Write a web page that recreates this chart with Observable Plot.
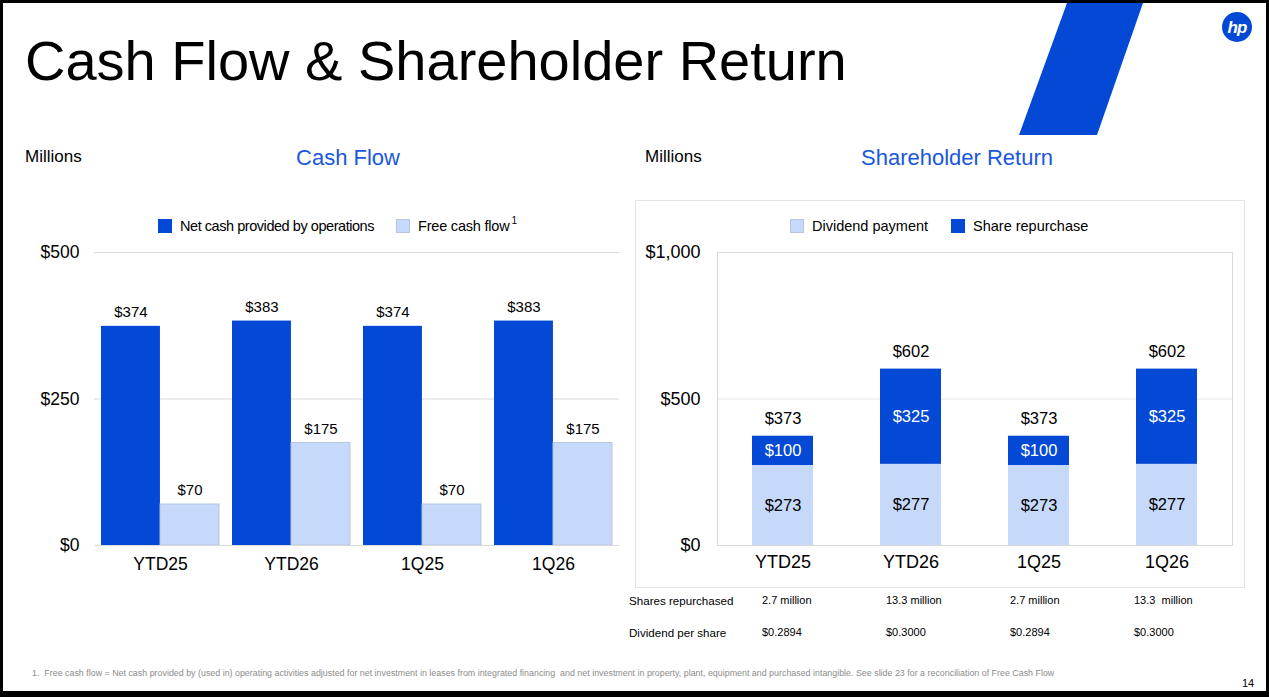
<!DOCTYPE html>
<html>
<head>
<meta charset="utf-8">
<script src="https://cdn.jsdelivr.net/npm/d3@7"></script>
<script src="https://cdn.jsdelivr.net/npm/@observablehq/plot@0.6"></script>
<style>
  html, body { margin: 0; padding: 0; background: #fff; }
  body { font-family: "Liberation Sans", Arial, sans-serif; color: #000; }
  #slide { position: relative; width: 1269px; height: 697px; overflow: hidden; background: #fff; }
  #frame { position: absolute; inset: 0; border-style: solid; border-color: #000;
           border-width: 3px 3px 6px 3px; pointer-events: none; z-index: 10; }
  .abs { position: absolute; white-space: nowrap; }
  .title { left: 25px; top: 33px; font-size: 56px; line-height: 56px; letter-spacing: 0px; }
  .millions { font-size: 17px; line-height: 17px; top: 148px; }
  .panel-title { font-size: 22px; line-height: 22px; top: 147px; color: #1a57dc; transform: translateX(-50%); }
  .legend-item { top: 219px; display: flex; align-items: center; font-size: 14.5px; height: 14px; }
  .legend-item .sw { width: 14px; height: 14px; box-sizing: border-box; margin-right: 8px; }
  .legend-item sup { font-size: 10px; position: relative; top: -6px; margin-left: 2px; }
  #panel { left: 635px; top: 200px; width: 610px; height: 388px; border: 1px solid #e4e4e4; box-sizing: border-box; }
  .chart { position: absolute; top: 232px; }
  .tbl { font-size: 11px; line-height: 11px; }
  .tbl.head { font-size: 11.6px; }
  .note { left: 32px; top: 669px; font-size: 8.9px; line-height: 8.9px; color: #8c8c8c; }
  .page { left: 1242px; top: 678px; font-size: 11px; line-height: 11px; }
</style>
</head>
<body>
<div id="slide">
  <div id="panel" class="abs"></div>
  <svg class="abs" style="left:0;top:0" width="1269" height="150">
    <polygon points="1067,3 1143,3 1097,135 1019,135" fill="#0349d5"></polygon>
    <circle cx="1237" cy="27" r="15" fill="#0349d5"></circle>
    <text x="1237" y="33" text-anchor="middle" fill="#fff" font-family="Liberation Sans" font-size="17" font-style="italic" font-weight="bold" letter-spacing="-1">hp</text>
  </svg>
  <div class="abs title">Cash Flow &amp; Shareholder Return</div>
  <div class="abs millions" style="left:25px">Millions</div>
  <div class="abs millions" style="left:645px">Millions</div>
  <div class="abs panel-title" style="left:348px">Cash Flow</div>
  <div class="abs panel-title" style="left:957px">Shareholder Return</div>
  <div id="legends"></div>
  <div class="chart" id="cashChart" style="left:0px"></div>
  <div class="chart" id="returnChart" style="left:620px"></div>
  <div id="table"></div>
  <div class="abs note">1.&nbsp; Free cash flow = Net cash provided by (used in) operating activities adjusted for net investment in leases from integrated financing&nbsp; and net investment in property, plant, equipment and purchased intangible. See slide 23 for a reconciliation of Free Cash Flow</div>
  <div class="abs page">14</div>
  <div id="frame"></div>
</div>
<script>
// Reporting periods and values, $ millions
const periods = ["YTD25", "YTD26", "1Q25", "1Q26"];
const netCashOps = [374, 383, 374, 383];
const freeCashFlow = [70, 175, 70, 175];
const dividendPayment = [273, 277, 273, 277];
const shareRepurchase = [100, 325, 100, 325];

// Supporting rows under the shareholder-return chart
const sharesRepurchased = ["2.7 million", "13.3 million", "2.7 million", "13.3\u00a0 million"];
const dividendPerShare = ["$0.2894", "$0.3000", "$0.2894", "$0.3000"];

// Axis ticks
const cashTicks = [0, 250, 500];
const returnTicks = [0, 500, 1000];

const DARK = "#0349d5";
const LIGHT = "#c7d9fb";
const GRID = "#d9d9d9";
const FONT = "Liberation Sans, Arial, sans-serif";
const money = d3.format("$,");
const stackOrder = ["Dividend payment", "Share repurchase"];

// ---- Cash flow: grouped bars ----
const cashRows = periods.map((p, i) => ({period: p, ops: netCashOps[i], fcf: freeCashFlow[i]}));
const cashW = 640, cashML = 94, cashMR = 21;
const cashPI = 0.1, cashPO = 0.05;
const cashStep = (cashW - cashML - cashMR) / (periods.length - cashPI + 2 * cashPO);
const half = cashStep * (1 - cashPI) / 2;

const cashPlot = Plot.plot({
  width: cashW, height: 360,
  marginTop: 20, marginBottom: 47, marginLeft: cashML, marginRight: cashMR,
  style: {fontFamily: FONT, fontSize: "17.5px", color: "#000", background: "transparent", overflow: "visible"},
  x: {domain: periods, paddingInner: cashPI, paddingOuter: cashPO, label: null, tickSize: 0, tickPadding: 12},
  y: {domain: [0, 500], ticks: cashTicks, tickFormat: money, label: null, tickSize: 0, tickPadding: 15},
  marks: [
    Plot.ruleY(cashTicks.filter(d => d > 0), {stroke: GRID}),
    Plot.barY(cashRows, {x: "period", y: "ops", fill: DARK, insetRight: half}),
    Plot.barY(cashRows, {x: "period", y: "fcf", fill: LIGHT, stroke: "#b7c6de", strokeWidth: 1, insetLeft: half}),
    Plot.ruleY([0], {stroke: GRID}),
    Plot.text(cashRows, {x: "period", y: "ops", text: d => money(d.ops), dx: -half / 2, dy: -14, fontSize: 15, fill: "#000"}),
    Plot.text(cashRows, {x: "period", y: "fcf", text: d => money(d.fcf), dx: half / 2, dy: -14, fontSize: 15, fill: "#000"})
  ]
});
document.getElementById("cashChart").appendChild(cashPlot);

// ---- Shareholder return: stacked bars ----
const returnRows = periods.map((p, i) => ({period: p, div: dividendPayment[i], rep: shareRepurchase[i]}));
const returnLong = returnRows.flatMap(d => [
  {period: d.period, series: "Dividend payment", value: d.div},
  {period: d.period, series: "Share repurchase", value: d.rep}
]);

const returnPlot = Plot.plot({
  width: 640, height: 360,
  marginTop: 20, marginBottom: 47, marginLeft: 97, marginRight: 28,
  style: {fontFamily: FONT, fontSize: "18px", color: "#000", background: "transparent", overflow: "visible"},
  x: {domain: periods, paddingInner: 0.52, paddingOuter: 0.26, label: null, tickSize: 0, tickPadding: 10},
  y: {domain: [0, 1000], ticks: returnTicks, tickFormat: money, label: null, tickSize: 0, tickPadding: 17},
  color: {domain: stackOrder, range: [LIGHT, DARK]},
  marks: [
    Plot.ruleY([500], {stroke: "#e6e6e6"}),
    Plot.barY(returnLong, {x: "period", y: "value", fill: "series", z: "series", order: stackOrder}),
    Plot.frame({stroke: GRID}),
    Plot.text(returnLong, Plot.stackY({x: "period", y: "value", z: "series", order: stackOrder,
      text: d => d.series === "Dividend payment" ? money(d.value) : "", fill: "#000", fontSize: 16.5})),
    Plot.text(returnLong, Plot.stackY({x: "period", y: "value", z: "series", order: stackOrder,
      text: d => d.series === "Share repurchase" ? money(d.value) : "", fill: "#fff", fontSize: 16.5})),
    Plot.text(returnRows, {x: "period", y: d => d.div + d.rep, text: d => money(d.div + d.rep), dy: -17, fontSize: 16.5, fill: "#000"})
  ]
});
document.getElementById("returnChart").appendChild(returnPlot);

// ---- Legends ----
const legendItems = [
  {label: "Net cash provided by operations", color: DARK, left: 158, spacing: -0.45},
  {label: "Free cash flow", color: LIGHT, left: 396, note: "1", spacing: -0.2},
  {label: "Dividend payment", color: LIGHT, left: 790, spacing: 0},
  {label: "Share repurchase", color: DARK, left: 951, spacing: 0}
];
const legends = document.getElementById("legends");
for (const it of legendItems) {
  const item = document.createElement("div");
  item.className = "abs legend-item";
  item.style.left = it.left + "px";
  const sw = document.createElement("div");
  sw.className = "sw";
  sw.style.background = it.color;
  if (it.color === LIGHT) sw.style.border = "1px solid #b7c6de";
  item.appendChild(sw);
  const label = document.createElement("span");
  label.textContent = it.label;
  label.style.letterSpacing = it.spacing + "px";
  item.appendChild(label);
  if (it.note) {
    const sup = document.createElement("sup");
    sup.textContent = it.note;
    item.appendChild(sup);
  }
  legends.appendChild(item);
}

// ---- Table of supporting figures ----
const table = document.getElementById("table");
const rows = [
  {label: "Shares repurchased", values: sharesRepurchased, top: 595},
  {label: "Dividend per share", values: dividendPerShare, top: 627}
];
for (const r of rows) {
  const lab = document.createElement("div");
  lab.className = "abs tbl head";
  lab.style.left = "629px";
  lab.style.top = r.top + "px";
  lab.textContent = r.label;
  table.appendChild(lab);
  r.values.forEach((v, i) => {
    const cell = document.createElement("div");
    cell.className = "abs tbl";
    cell.style.left = (762 + i * 124) + "px";
    cell.style.top = r.top + "px";
    cell.textContent = v;
    table.appendChild(cell);
  });
}
</script>
</body>
</html>
